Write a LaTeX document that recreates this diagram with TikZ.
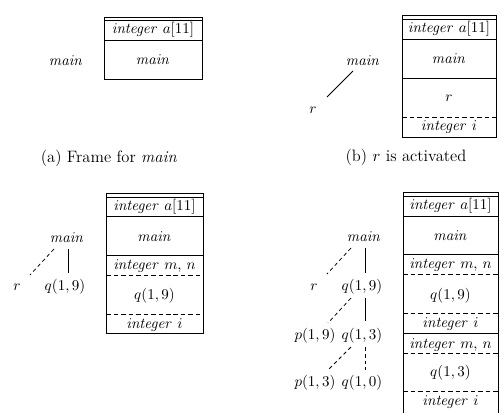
\documentclass[tikz,border=0pt]{standalone}
\usetikzlibrary{calc}
\begin{document}
\begin{tikzpicture}[x=0.6667pt,y=-0.6667pt,
  lab/.style={inner sep=0pt},
  caplab/.style={inner sep=0pt, font=\fontsize{11}{13}\selectfont},
  frame/.style={line width=0.5pt},
  dsh/.style={line width=0.5pt, dash pattern=on 3pt off 2pt},
  conn/.style={line width=0.5pt},
  dconn/.style={line width=0.5pt, dash pattern=on 2.5pt off 2pt}]
\useasboundingbox (0,0) rectangle (504,413);

% ---------- (a) ----------
\draw[frame] (104,17) rectangle (202,79);
\draw[frame] (104,20) -- (202,20);
\draw[frame] (104,40) -- (202,40);
\node[lab] (ah) at (153,30) {$\mathit{integer}\ a[11]$};
\node[lab] (am) at (153,60) {$\mathit{main}$};
\node[lab] (atm) at (66,61) {$\mathit{main}$};
\node[caplab] (acap) at (109,158) {(a) Frame for \textit{main}};

% ---------- (b) ----------
\draw[frame] (402,15) rectangle (496,137);
\draw[frame] (402,19) -- (496,19);
\draw[frame] (402,39) -- (496,39);
\draw[frame] (402,78) -- (496,78);
\draw[dsh] (402,117) -- (496,117);
\node[lab] (bh) at (449,29) {$\mathit{integer}\ a[11]$};
\node[lab] (bm) at (449,59) {$\mathit{main}$};
\node[lab] (br) at (449,98) {$r$};
\node[lab] (bi) at (449,127) {$\mathit{integer}\ i$};
\node[lab] (btm) at (363,61) {$\mathit{main}$};
\node[lab] (btr) at (313,110) {$r$};
\draw[conn] ($(btm)+(-10,10)$) -- ($(btr)+(14,-13)$);
\node[caplab] (bcap) at (406,157) {(b) $r$ is activated};

% ---------- (c) ----------
\draw[frame] (106,193) rectangle (203,333);
\draw[frame] (106,197) -- (203,197);
\draw[frame] (106,216) -- (203,216);
\draw[frame] (106,255) -- (203,255);
\draw[dsh] (106,275) -- (203,275);
\draw[dsh] (106,314) -- (203,314);
\node[lab] (ch) at (154.5,207) {$\mathit{integer}\ a[11]$};
\node[lab] (cm) at (154.5,237) {$\mathit{main}$};
\node[lab] (cmn) at (154.5,266) {$\mathit{integer}\ m,\, n$};
\node[lab] (cq) at (154.5,296) {$q(1,9)$};
\node[lab] (ci) at (154.5,325) {$\mathit{integer}\ i$};
\node[lab] (ctm) at (67,238) {$\mathit{main}$};
\node[lab] (ctr) at (17,287) {$r$};
\node[lab] (ctq) at (65,287) {$q(1,9)$};
\draw[dconn] ($(ctm)+(-13,11)$) -- ($(ctr)+(13,-12)$);
\draw[conn] ($(ctm)+(1,11)$) -- ($(ctm|-ctq)+(1,-14)$);

% ---------- (d) ----------
\draw[frame] (403,413) -- (403,192) -- (498,192) -- (498,413);
\draw[frame] (403,196) -- (498,196);
\draw[frame] (403,216) -- (498,216);
\draw[frame] (403,254) -- (498,254);
\draw[dsh] (403,274) -- (498,274);
\draw[dsh] (403,313) -- (498,313);
\draw[frame] (403,333) -- (498,333);
\draw[dsh] (403,353) -- (498,353);
\draw[dsh] (403,391) -- (498,391);
\node[lab] (dh) at (450.5,206) {$\mathit{integer}\ a[11]$};
\node[lab] (dm) at (450.5,236) {$\mathit{main}$};
\node[lab] (dmn) at (450.5,265) {$\mathit{integer}\ m,\, n$};
\node[lab] (dq) at (450.5,296) {$q(1,9)$};
\node[lab] (di) at (450.5,324) {$\mathit{integer}\ i$};
\node[lab] (dmn2) at (450.5,345) {$\mathit{integer}\ m,\, n$};
\node[lab] (dq2) at (450.5,373) {$q(1,3)$};
\node[lab] (di2) at (450.5,402) {$\mathit{integer}\ i$};
\node[lab] (dtm) at (364,237) {$\mathit{main}$};
\node[lab] (dtr) at (314,287) {$r$};
\node[lab] (dtq) at (362,287) {$q(1,9)$};
\node[lab] (dtp) at (315,336) {$p(1,9)$};
\node[lab] (dtq2) at (362,336) {$q(1,3)$};
\node[lab] (dtp2) at (315,383) {$p(1,3)$};
\node[lab] (dtq3) at (362,383) {$q(1,0)$};
\draw[dconn] ($(dtm)+(-13,11)$) -- ($(dtr)+(13,-13)$);
\draw[conn] ($(dtm)+(1,11)$) -- ($(dtm|-dtq)+(1,-14)$);
\draw[dconn] ($(dtq)+(-11,11)$) -- ($(dtp)+(13,-13)$);
\draw[conn] ($(dtq)+(3,11)$) -- ($(dtq|-dtq2)+(3,-15)$);
\draw[dconn] ($(dtq2)+(-11,11)$) -- ($(dtp2)+(13,-13)$);
\draw[dconn] ($(dtq2)+(3,11)$) -- ($(dtq2|-dtq3)+(3,-13)$);
\end{tikzpicture}
\end{document}
